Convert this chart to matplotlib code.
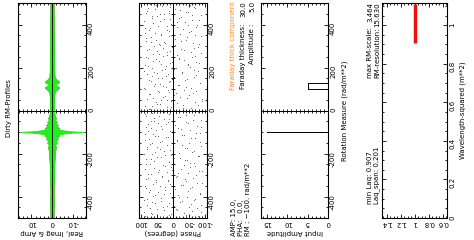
import numpy as np
import matplotlib
matplotlib.use('Agg')
import matplotlib.pyplot as plt
from matplotlib.ticker import MultipleLocator, FormatStrFormatter

# dirty RM profile: envelope (amplitude)
rm_env = [-500, -420, -380, -300, -250, -220, -190, -170, -160, -150, -140, -132,
          -125, -118, -112, -107, -103, -100, -97, -93, -88, -82, -75, -68, -60,
          -52, -44, -35, -25, -10, 20, 60, 85, 95, 102, 108, 114, 120, 126, 132,
          138, 145, 155, 180, 250, 350, 500]
amp_env = [0.7, 0.8, 0.7, 0.9, 1.0, 1.2, 1.4, 1.8, 1.4, 2.2, 1.8, 2.8,
           2.2, 3.5, 3.0, 5.5, 9.0, 15.0, 9.0, 5.5, 3.0, 3.5, 2.2, 2.8, 1.8,
           2.2, 1.4, 1.8, 1.2, 1.0, 0.9, 0.9, 1.2, 2.0, 3.0, 3.3, 2.4, 1.0, 2.4, 3.3,
           3.0, 2.0, 1.2, 1.0, 0.9, 0.8, 0.7]

# phase of the dirty spectrum (degrees), sampled every 2.5 rad/m**2
rm_phase_a = np.arange(-500, 501, 5)
phase_a = [-63, 22, 87, -41, 5, 70, -88, -12, 49, -76, 31, -3, 81, -55, 14, 66, -29, 89, -70, 38,
           -19, 57, -84, 9, 75, -47, 26, -6, 84, -60, 42, -25, 61, -89, 17, 53, -36, 79, -8, 33,
           -72, 68, -15, 46, -81, 2, 88, -52, 24, -33, 73, -66, 11, 58, -44, 85, -21, 36, -78, 7,
           64, -58, 29, -1, 80, -38, 51, -86, 19, 71, -49, 40, -11, 87, -68, 15, 55, -27, 62, -83,
           4, 77, -54, 35, -17, 83, -74, 21, 47, -40, 69, -87, 12, 59, -23, 44, -65, 86, -9, 27,
           -50, 74, -31, 6, 65, -79, 39, -14, 52, -90, 18, 82, -45, 30, -4, 72, -61, 13, 48, -35,
           86, -57, 23, 60, -20, 41, -85, 8, 76, -43, 34, -2, 67, -73, 16, 50, -28, 89, -64, 25,
           -10, 78, -48, 37, -82, 3, 63, -34, 54, -18, 85, -69, 20, 45, -56, 10, 81, -26, 32, -77,
           58, -7, 43, -62, 28, 84, -39, 1, 70, -87, 36, -22, 56, -51, 13, 74, -32, 88, -71, 19,
           -46, 61, -13, 39, -80, 8, 67, -24, 50, -59, 27, 83, -42, 11, -5, 77, -67, 34, 53, -30,
           15]
rm_phase_b = np.arange(-497.5, 500, 5)
phase_b = [41, -77, 12, 66, -35, 90, -58, 27, -8, 73, -49, 18, -86, 55, -22, 38, -67, 80, 3, -44,
           62, -15, 29, -83, 47, -1, 71, -54, 24, 88, -30, 9, -75, 52, -39, 16, 84, -63, 35, -11,
           77, -48, 20, -89, 44, -26, 59, 6, -70, 31, 85, -52, 14, -37, 68, -4, 49, -81, 25, 90,
           -19, 57, -66, 10, 39, -45, 82, -28, 1, 64, -85, 33, -13, 74, -57, 21, 46, -34, 87, -72,
           8, 53, -24, 69, -88, 36, -6, 79, -47, 15, 58, -61, 28, -17, 83, -40, 11, 65, -79, 42,
           -2, 71, -55, 19, 86, -32, 50, -69, 7, 37, -90, 61, -21, 26, -50, 76, -9, 43, -73, 17,
           89, -42, 32, -16, 56, -84, 13, 70, -36, 4, 48, -64, 23, 81, -27, 60, -78, 34, -3, 67,
           -53, 22, 87, -46, 9, -71, 45, -20, 78, -59, 30, -12, 63, -87, 18, 51, -33, 75, -65, 2,
           40, -82, 26, 69, -25, 54, -7, 84, -43, 12, -68, 36, 88, -56, 20, -31, 73, -14, 47, -76,
           5, 61, -38, 90, -60, 29, -18, 66, -86, 41, 14, -48, 80, -23, 57, -70, 10, 35, -52, 72]

# input model: delta component + Faraday thick slab
rm_input = [-500, -100, -100, -100, 100, 100, 130, 130, 500]
amp_input = [0, 0, 15, 0, 0, 5, 5, 0, 0]

# lambda^2 coverage
lam2_min, lam2_span = 0.907, 0.201
lam2 = [lam2_min, lam2_min + lam2_span]
weight = [1.0, 1.0]

W, H = 474.0, 240.0
fig = plt.figure(figsize=(4.74, 2.40), dpi=100)
plt.rcParams['font.family'] = 'DejaVu Sans'
fs = 5


def panel(x0, x1, y0=3, y1=218):
    return fig.add_axes([x0 / W, 1 - y1 / H, (x1 - x0) / W, (y1 - y0) / H])


def style(ax, xlim, xmaj, xmin, ylim=(-500, 500), ymaj=200, ymin=50):
    ax.set_xlim(*xlim)
    ax.set_ylim(*ylim)
    ax.xaxis.set_major_locator(MultipleLocator(xmaj))
    ax.xaxis.set_minor_locator(MultipleLocator(xmin))
    ax.yaxis.set_major_locator(MultipleLocator(ymaj))
    ax.yaxis.set_minor_locator(MultipleLocator(ymin))
    ax.xaxis.set_major_formatter(FormatStrFormatter('%g'))
    ax.yaxis.set_major_formatter(FormatStrFormatter('%g'))
    ax.tick_params(which='both', direction='in', top=True, bottom=True,
                   left=True, right=True, labelleft=False, labelright=True,
                   labelsize=fs, pad=1.5, width=0.6)
    ax.tick_params(which='major', length=3)
    ax.tick_params(which='minor', length=1.5)
    ax.tick_params(axis='x', labelrotation=180)
    ax.tick_params(axis='y', labelrotation=90)
    for s in ax.spines.values():
        s.set_linewidth(0.8)


def zero_axis(ax, xticks):
    ax.axhline(0, color='k', lw=0.7, zorder=4)
    ax.plot(xticks, np.zeros(len(xticks)), ls='none', marker='|', ms=2.5,
            mew=0.6, color='k', zorder=4)


# panel 1: dirty RM profiles
ax1 = panel(18, 86)
style(ax1, (16.5, -16.5), 10, 2)
env = np.array(amp_env)
ax1.axvline(0, color='k', lw=0.6)
ax1.fill_betweenx(rm_env, -(env * 1.03 + 0.2), env * 1.03 + 0.2, color='#b02020', lw=0)
ax1.fill_betweenx(rm_env, -env, env, color='#22ee22', lw=0.8, edgecolor='#22ee22')
zero_axis(ax1, np.arange(-16, 17, 2))
ax1.set_xlabel('Real, Imag & Amp', fontsize=fs, rotation=180, labelpad=2)

# panel 2: phase
ax2 = panel(139, 207)
style(ax2, (106, -106), 50, 10)
ax2.plot(phase_a, rm_phase_a, ls='none', marker='.', ms=1.3, color='#555555', mew=0)
ax2.plot(phase_b, rm_phase_b, ls='none', marker='.', ms=1.3, color='#555555', mew=0)
ax2.axvline(0, color='k', lw=0.7)
ax2.plot(np.zeros(21), np.arange(-500, 501, 50), ls='none', marker='_', ms=2.5,
         mew=0.6, color='k')
zero_axis(ax2, np.arange(-100, 101, 10))
ax2.set_xlabel('Phase (degrees)', fontsize=fs, rotation=180, labelpad=2)

# panel 3: input model
ax3 = panel(261, 328)
style(ax3, (16.5, 0), 5, 1)
ax3.plot(amp_input, rm_input, color='k', lw=0.7)
zero_axis(ax3, np.arange(0, 17, 1))
ax3.set_xlabel('Input Amplitude', fontsize=fs, rotation=180, labelpad=2)
ax3.set_ylabel('Rotation Measure (rad/m**2)', fontsize=fs, rotation=90, labelpad=4)
ax3.yaxis.set_label_position('right')

# panel 4: lambda^2 coverage
ax4 = panel(382, 447)
style(ax4, (1.47, 0.54), 0.2, 0.05, ylim=(0, 1.115), ymaj=0.2, ymin=0.05)
ax4.plot(weight, lam2, color='#ee1111', lw=2.5, solid_capstyle='butt')
ax4.set_ylabel('Wavelength-squared (m**2)', fontsize=fs, rotation=90, labelpad=3)
ax4.yaxis.set_label_position('right')


def ftext(x, y, s, va='center', color='k'):
    fig.text(x / W, 1 - y / H, s, rotation=90, ha='center', va=va,
             fontsize=fs, color=color)


ftext(9, 108, 'Dirty RM-Profiles')
ftext(233, 1, 'Faraday thick component', va='top', color='#ff8c1a')
ftext(243, 24, 'Faraday thickness:', va='top')
ftext(243, 1, '30.0', va='top')
ftext(252, 24, 'Amplitude :', va='top')
ftext(252, 1, '5.0', va='top')
ftext(234, 236, 'AMP: 15.0,', va='bottom')
ftext(241, 236, 'PHA:   0.0,', va='bottom')
ftext(248, 236, 'RM : \u2212100. rad/m**2', va='bottom')
ftext(370, 204, 'min Laq: 0.907', va='bottom')
ftext(377, 204, 'Laq_span: 0.201', va='bottom')
ftext(370, 27, 'max RM-scale:', va='top')
ftext(370, 2, '3.464', va='top')
ftext(377, 27, 'RM-resolution:', va='top')
ftext(377, 2, '15.630', va='top')

fig.savefig('out.png', dpi=100)
